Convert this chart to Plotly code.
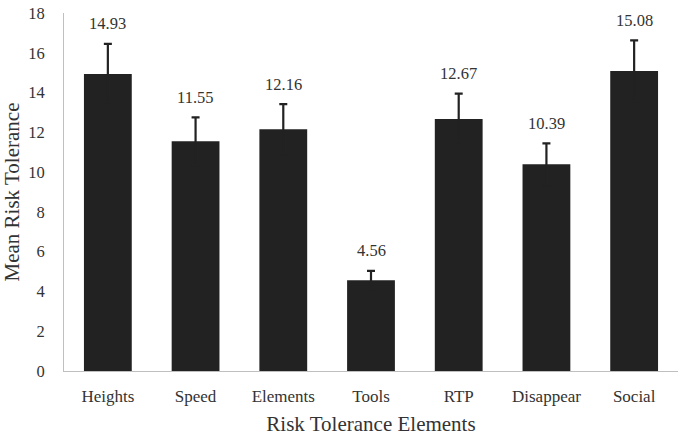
import plotly.graph_objects as go

# data
categories = ["Heights", "Speed", "Elements", "Tools", "RTP", "Disappear", "Social"]
means = [14.93, 11.55, 12.16, 4.56, 12.67, 10.39, 15.08]
errors = [1.52, 1.2, 1.26, 0.47, 1.28, 1.05, 1.54]
labels = ["14.93", "11.55", "12.16", "4.56", "12.67", "10.39", "15.08"]

serif = "Liberation Serif"
text_color = "#333333"
bar_color = "#222222"

fig = go.Figure()

# error bars are symmetric, the lower half just disappears inside the dark bar
fig.add_trace(go.Bar(
    x=categories,
    y=means,
    marker=dict(color=bar_color, line=dict(width=0)),
    error_y=dict(type="data", array=errors, color=bar_color, thickness=2.2, width=4),
    width=0.545,
    hoverinfo="x+y",
))

# value labels sit above the error bars
for cat, m, e, lab in zip(categories, means, errors, labels):
    fig.add_annotation(
        x=cat, y=m + e, text=lab, showarrow=False,
        yanchor="middle", yshift=20,
        font=dict(family=serif, size=16.5, color=text_color),
    )

fig.update_layout(
    width=685, height=437,
    margin=dict(l=64, r=7, t=13, b=66),
    paper_bgcolor="white",
    plot_bgcolor="white",
    showlegend=False,
    font=dict(family=serif, color=text_color),
    xaxis=dict(
        title=dict(text="Risk Tolerance Elements",
                   font=dict(family=serif, size=21, color=text_color), standoff=10),
        showline=True, linecolor="#bfbfbf", linewidth=1,
        showgrid=False, ticks="", automargin=False,
        tickfont=dict(family=serif, size=17, color=text_color),
        ticklabelstandoff=10,
    ),
    yaxis=dict(
        title=dict(text="Mean Risk Tolerance",
                   font=dict(family=serif, size=21, color=text_color), standoff=6),
        range=[0, 18], dtick=2,
        showline=True, linecolor="#bfbfbf", linewidth=1,
        showgrid=False, zeroline=False, ticks="", automargin=False,
        tickfont=dict(family=serif, size=16.5, color=text_color),
        ticklabelstandoff=15,
    ),
)

fig.write_html("out.html", config={"displayModeBar": False},
               post_script="document.body.style.margin='0';")
